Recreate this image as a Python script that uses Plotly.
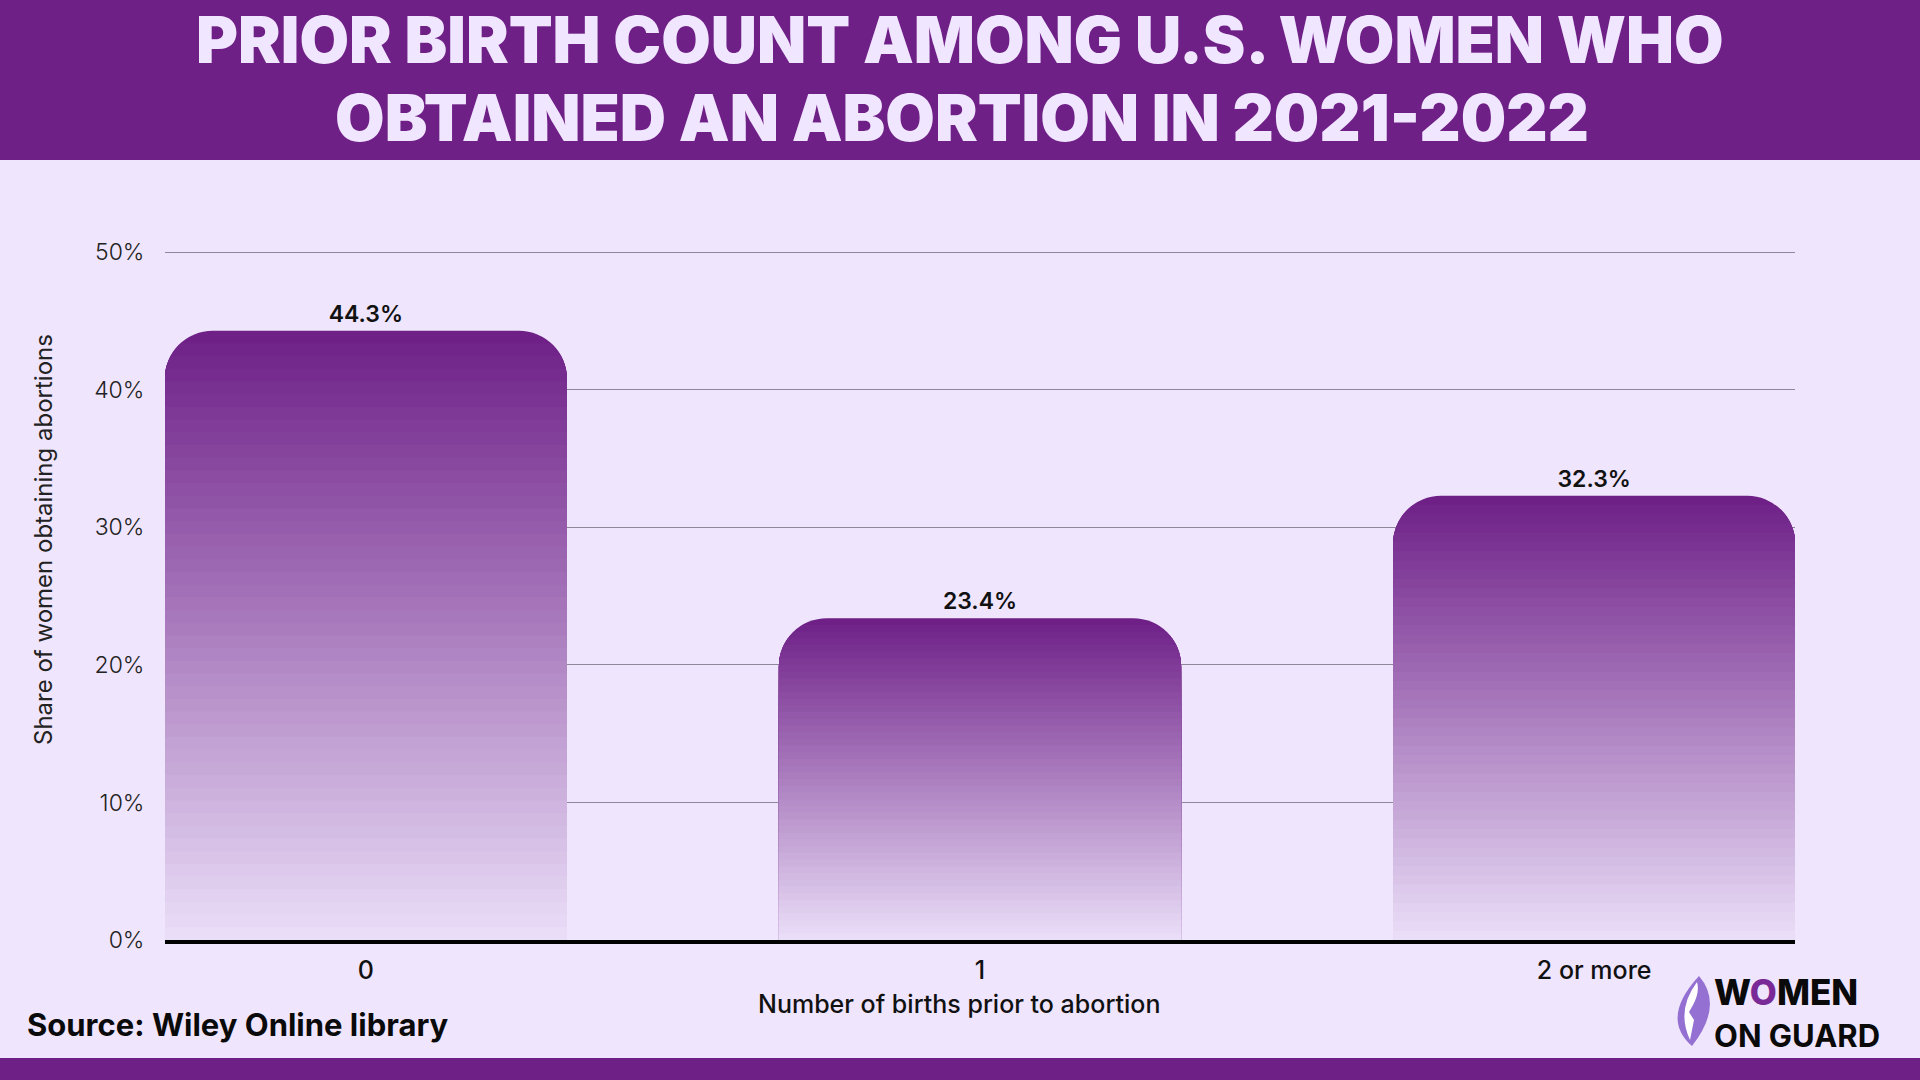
import plotly.graph_objects as go

# ---------------- data ----------------
categories = ["0", "1", "2 or more"]
shares = [44.3, 23.4, 32.3]
y_tick_values = [0, 10, 20, 30, 40, 50]
y_tick_labels = ["0%", "10%", "20%", "30%", "40%", "50%"]
title_lines = ["PRIOR BIRTH COUNT AMONG U.S. WOMEN WHO", "OBTAINED AN ABORTION IN 2021-2022"]
x_title = "Number of births prior to abortion"
y_title = "Share of women obtaining abortions"
source_text = "Source: Wiley Online library"

# ---------------- style ----------------
W, H = 1920, 1080
L, R, T, B = 165, 125, 251, 140
PW, PH = W - L - R, H - T - B
Y_MAX = 50.1
BG = "#EFE5FD"
PURPLE = "#6E2087"
TITLE_COLOR = "#F1E6FF"
TOP_RGB = (0x6E, 0x20, 0x87)
BOT_RGB = (0xEC, 0xE1, 0xFA)
FONT = "Inter, Open Sans, sans-serif"
N_LAYERS = 48
RADIUS = 48


def px_x(x):
    return (x - L) / PW


def px_y(y):
    return (H - B - y) / PH


def mix(f):
    c = [round(BOT_RGB[i] + (TOP_RGB[i] - BOT_RGB[i]) * f) for i in range(3)]
    return "rgb({},{},{})".format(*c)


fig = go.Figure()

# gradient bars: overlaid layers, each a fraction of the bar value
for k in range(N_LAYERS):
    f = 1 - k / N_LAYERS
    is_top = k == 0
    fig.add_trace(go.Bar(
        x=categories,
        y=[v * f for v in shares],
        marker=dict(color=mix(f), line=dict(width=0), cornerradius=RADIUS),
        text=[f"{v:.1f}%" for v in shares] if is_top else None,
        textposition="outside" if is_top else "none",
        textfont=dict(family=FONT, size=23, color="#111111", weight=600),
        cliponaxis=False,
        hoverinfo="skip" if not is_top else None,
        showlegend=False,
    ))

shapes = [
    # title band
    dict(type="rect", xref="paper", yref="paper",
         x0=px_x(-5), x1=px_x(W + 5), y0=px_y(160), y1=px_y(-5),
         fillcolor=PURPLE, line=dict(width=0), layer="below"),
    # bottom band
    dict(type="rect", xref="paper", yref="paper",
         x0=px_x(-5), x1=px_x(W + 5), y0=px_y(H + 5), y1=px_y(1058),
         fillcolor=PURPLE, line=dict(width=0), layer="below"),
]

# logo leaf (decoration)
tip, bot = (1699, 976), (1692, 1046)
leaf = (f"M {px_x(tip[0])} {px_y(tip[1])} "
        f"Q {px_x(1660)} {px_y(1018)} {px_x(bot[0])} {px_y(bot[1])} "
        f"Q {px_x(1724)} {px_y(1005)} {px_x(tip[0])} {px_y(tip[1])} Z")
shapes.append(dict(type="path", xref="paper", yref="paper", path=leaf,
                   fillcolor="#9470D2", line=dict(width=0)))
face = (f"M {px_x(1697)} {px_y(982)} "
        f"Q {px_x(1676)} {px_y(1010)} {px_x(1690)} {px_y(1040)} "
        f"L {px_x(1694)} {px_y(1020)} L {px_x(1689)} {px_y(1012)} "
        f"L {px_x(1693)} {px_y(1005)} Q {px_x(1700)} {px_y(992)} {px_x(1697)} {px_y(982)} Z")
shapes.append(dict(type="path", xref="paper", yref="paper", path=face,
                   fillcolor="#FFFFFF", line=dict(width=0)))

annotations = [
    dict(text=title_lines[0], x=px_x(960), y=px_y(40), xref="paper", yref="paper",
         showarrow=False, xanchor="center", yanchor="middle",
         font=dict(family=FONT, size=64, color=TITLE_COLOR, weight=900)),
    dict(text=title_lines[1], x=px_x(962), y=px_y(118), xref="paper", yref="paper",
         showarrow=False, xanchor="center", yanchor="middle",
         font=dict(family=FONT, size=64, color=TITLE_COLOR, weight=900)),
    dict(text=y_title, x=px_x(43), y=px_y(540), xref="paper", yref="paper",
         showarrow=False, xanchor="center", yanchor="middle", textangle=-90,
         font=dict(family=FONT, size=24, color="#222222", weight=400)),
    dict(text=x_title, x=px_x(959), y=px_y(1004), xref="paper", yref="paper",
         showarrow=False, xanchor="center", yanchor="middle",
         font=dict(family=FONT, size=25, color="#111111", weight=500)),
    dict(text=source_text, x=px_x(25), y=px_y(1024), xref="paper", yref="paper",
         showarrow=False, xanchor="left", yanchor="middle",
         font=dict(family=FONT, size=31, color="#0A0A0A", weight=700)),
    dict(text="W<span style='color:#7A2A96'>O</span>MEN", x=px_x(1712), y=px_y(992),
         xref="paper", yref="paper", showarrow=False, xanchor="left", yanchor="middle",
         font=dict(family=FONT, size=35, color="#0A0A0A", weight=800)),
    dict(text="ON GUARD", x=px_x(1712), y=px_y(1035), xref="paper", yref="paper",
         showarrow=False, xanchor="left", yanchor="middle",
         font=dict(family=FONT, size=31, color="#0A0A0A", weight=700)),
]

fig.update_layout(
    width=W, height=H,
    margin=dict(l=L, r=R, t=T, b=B, autoexpand=False),
    paper_bgcolor=BG, plot_bgcolor=BG,
    barmode="overlay", bargap=0.345,
    shapes=shapes, annotations=annotations,
    showlegend=False,
    xaxis=dict(type="category", range=[-0.327, 2.327], showgrid=False,
               showline=True, linecolor="#000000", linewidth=4,
               ticks="outside", ticklen=5, tickcolor="rgba(0,0,0,0)",
               tickfont=dict(family=FONT, size=25, color="#111111", weight=500),
               zeroline=False, fixedrange=True),
    yaxis=dict(range=[0, Y_MAX], tickvals=y_tick_values, ticktext=y_tick_labels,
               showgrid=True, gridcolor="#8F8799", gridwidth=1,
               zeroline=False, showline=False,
               ticks="outside", ticklen=15, tickcolor="rgba(0,0,0,0)",
               tickfont=dict(family=FONT, size=23, color="#222222", weight=300),
               fixedrange=True),
)

fig.write_html("out.html")
